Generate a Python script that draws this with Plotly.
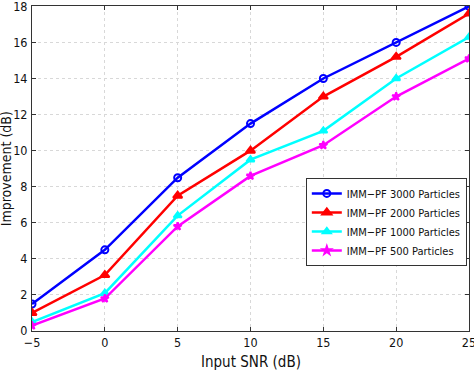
import plotly.graph_objects as go

snr = [-5, 0, 5, 10, 15, 20, 25]
pf3000 = [1.5, 4.5, 8.5, 11.5, 14.0, 16.0, 18.0]
pf2000 = [1.0, 3.1, 7.5, 10.0, 13.0, 15.2, 17.6]
pf1000 = [0.5, 2.1, 6.4, 9.5, 11.1, 14.0, 16.3]
pf500 = [0.3, 1.8, 5.8, 8.6, 10.3, 13.0, 15.1]
x_ticks = [-5, 0, 5, 10, 15, 20, 25]
y_ticks = [0, 2, 4, 6, 8, 10, 12, 14, 16, 18]

names = ["IMM\u2212PF 3000 Particles", "IMM\u2212PF 2000 Particles",
         "IMM\u2212PF 1000 Particles", "IMM\u2212PF 500 Particles"]
colors = ["#0000ff", "#ff0000", "#00ffff", "#ff00ff"]
symbols = ["circle-open", "triangle-up", "triangle-up", "star"]
sizes = [7, 8, 7, 6]
series = [pf3000, pf2000, pf1000, pf500]

FONT = "DejaVu Sans Condensed, Liberation Sans Narrow, Liberation Sans, Arial, sans-serif"

fig = go.Figure()
for n, c, s, sz, y in zip(names, colors, symbols, sizes, series):
    fig.add_trace(go.Scatter(
        x=snr, y=y, name=n, mode="lines+markers",
        line=dict(color=c, width=2.5),
        marker=dict(symbol=s, size=sz, color=c, line=dict(color=c, width=2)),
    ))

axis_common = dict(
    showline=True, linecolor="#333333", linewidth=1, mirror="ticks",
    ticks="inside", ticklen=4, tickcolor="#333333",
    showgrid=True, gridcolor="#d8d8d8", griddash="dot", gridwidth=1,
    zeroline=False, ticklabeloverflow="allow",
    tickfont=dict(family=FONT, size=12.5, color="#111111"),
)

fig.update_layout(
    width=474, height=373,
    margin=dict(l=32, r=5, t=6, b=42, autoexpand=False),
    paper_bgcolor="white", plot_bgcolor="white",
    font=dict(family=FONT, color="#111111"),
    xaxis=dict(range=[-5, 25], tickvals=x_ticks, **axis_common),
    yaxis=dict(range=[0, 18.02], tickvals=y_ticks, ticklabelstandoff=1, **axis_common),
    legend=dict(x=0.995, y=0.471, xanchor="right", yanchor="top",
                bgcolor="white", bordercolor="#333333", borderwidth=1,
                font=dict(family=FONT, size=11, color="#111111"),
                tracegroupgap=0, itemwidth=30),
    showlegend=True,
    annotations=[
        dict(text="Input SNR (dB)", xref="paper", yref="paper", x=0.5, y=-0.062,
             xanchor="center", yanchor="top", showarrow=False,
             font=dict(family=FONT, size=15, color="#111111")),
        dict(text="Improvement (dB)", xref="paper", yref="paper", x=-0.06, y=0.5,
             xanchor="center", yanchor="middle", textangle=-90, showarrow=False,
             font=dict(family=FONT, size=14, color="#111111")),
    ],
)

fig.write_html("out.html", config={"displayModeBar": False},
               post_script="document.body.style.margin='0';")
